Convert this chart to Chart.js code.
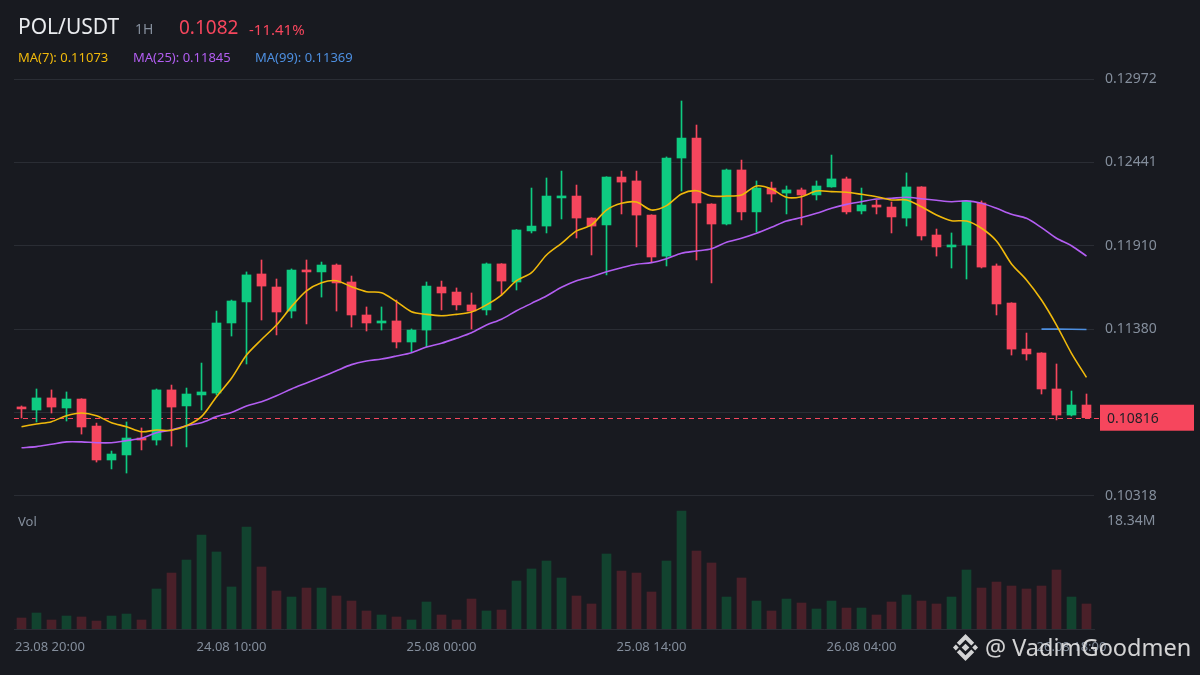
<!DOCTYPE html>
<html>
<head>
<meta charset="utf-8">
<script src="https://cdn.jsdelivr.net/npm/chart.js@4.4.1/dist/chart.umd.min.js"></script>
<style>
  html, body { margin: 0; padding: 0; background: #181a20; }
  #wrap { position: relative; width: 1200px; height: 675px; background: #181a20; overflow: hidden; font-family: "Noto Sans", sans-serif; }
  #wrap canvas { position: absolute; left: 0; top: 0; }
  .t { position: absolute; white-space: nowrap; line-height: 1; }
  #pair { left: 18px; top: 16px; font-size: 21px; color: #eaecef; }
  #tf { left: 135px; top: 22px; font-size: 14px; color: #848e9c; }
  #last { left: 179px; top: 18px; font-size: 19px; color: #f6465d; }
  #chg { left: 249px; top: 22px; font-size: 15px; color: #f6465d; }
  .ma { top: 51px; font-size: 13px; }
  #wm { left: 951px; top: 633px; color: rgba(232,232,232,0.9); font-size: 23.5px; display: flex; align-items: center; gap: 5px; z-index: 2; }
</style>
</head>
<body>
<div id="wrap">
  <canvas id="chart" width="1200" height="675"></canvas>
  <div class="t" id="pair">POL/USDT</div>
  <div class="t" id="tf">1H</div>
  <div class="t" id="last">0.1082</div>
  <div class="t" id="chg">-11.41%</div>
  <div class="t ma" style="left:18px;color:#f0b90b">MA(7): 0.11073</div>
  <div class="t ma" style="left:133px;color:#b35ef2">MA(25): 0.11845</div>
  <div class="t ma" style="left:255px;color:#4d8fe0">MA(99): 0.11369</div>
  <div class="t" id="wm">
    <svg width="29" height="29" viewBox="0 0 30 30">
      <g fill="rgba(232,232,232,0.9)">
        <polygon points="15,11 19,15 15,19 11,15"/>
        <polygon points="2,15 5,12 8,15 5,18"/>
        <polygon points="22,15 25,12 28,15 25,18"/>
        <polygon points="15,1 24,10 21,13 15,7 9,13 6,10"/>
        <polygon points="15,29 24,20 21,17 15,23 9,17 6,20"/>
      </g>
    </svg>
    <span>@ VadimGoodmen</span>
  </div>
</div>
<script>
// hourly candles, 23.08 20:00 -> 26.08 19:00
const labels = [];
for (let h = 0; h < 72; h++) {
  const t = 20 + h;
  const day = 23 + Math.floor(t / 24);
  const hr = t % 24;
  labels.push(day + ".08 " + String(hr).padStart(2, "0") + ":00");
}

const open = [0.10884,0.10865,0.10942,0.10878,0.10935,0.10763,0.10547,0.10579,0.10687,0.10674,
  0.10993,0.10891,0.10961,0.10973,0.11419,0.11553,0.11731,0.11648,0.11495,0.11756,
  0.11744,0.11788,0.11680,0.11470,0.11419,0.11432,0.11298,0.11374,0.11648,0.11616,
  0.11534,0.11502,0.11795,0.11680,0.12005,0.12036,0.12215,0.12227,0.12087,0.12043,
  0.12348,0.12323,0.12106,0.11845,0.12469,0.12596,0.12176,0.12049,0.12393,0.12126,
  0.12278,0.12246,0.12266,0.12234,0.12285,0.12336,0.12132,0.12170,0.12157,0.12087,
  0.12285,0.11979,0.11903,0.11915,0.12183,0.11782,0.11546,0.11253,0.11228,0.10999,
  0.10833,0.10897];

const high = [0.10891,0.10999,0.10993,0.10980,0.10937,0.10782,0.10604,0.10789,0.10751,0.10999,
  0.11024,0.11005,0.11164,0.11495,0.11565,0.11744,0.11820,0.11699,0.11763,0.11820,
  0.11807,0.11795,0.11718,0.11521,0.11521,0.11565,0.11381,0.11680,0.11686,0.11642,
  0.11610,0.11801,0.11797,0.12014,0.12278,0.12342,0.12386,0.12297,0.12089,0.12350,
  0.12386,0.12386,0.12108,0.12476,0.12832,0.12679,0.12178,0.12399,0.12456,0.12323,
  0.12316,0.12291,0.12278,0.12323,0.12488,0.12348,0.12278,0.12202,0.12189,0.12374,
  0.12287,0.12017,0.11992,0.12198,0.12196,0.11795,0.11548,0.11355,0.11230,0.11158,
  0.10986,0.10967];

const low = [0.10814,0.10789,0.10846,0.10795,0.10712,0.10534,0.10490,0.10464,0.10611,0.10642,
  0.10636,0.10630,0.10865,0.10961,0.11336,0.11158,0.11438,0.11343,0.11451,0.11413,
  0.11584,0.11495,0.11393,0.11368,0.11374,0.11260,0.11234,0.11266,0.11502,0.11502,
  0.11381,0.11470,0.11597,0.11629,0.11992,0.11992,0.12081,0.11960,0.11852,0.11725,
  0.12113,0.11903,0.11807,0.11782,0.12259,0.11820,0.11674,0.12043,0.12075,0.11998,
  0.12189,0.12113,0.12043,0.12202,0.12283,0.12113,0.12113,0.12113,0.11992,0.12036,
  0.11947,0.11845,0.11769,0.11699,0.11769,0.11470,0.11215,0.11183,0.10967,0.10802,
  0.10827,0.10812];

const close = [0.10872,0.10942,0.10884,0.10935,0.10757,0.10547,0.10585,0.10687,0.10674,0.10993,
  0.10884,0.10967,0.10980,0.11419,0.11559,0.11725,0.11654,0.11489,0.11756,0.11744,
  0.11788,0.11674,0.11470,0.11419,0.11432,0.11298,0.11374,0.11654,0.11610,0.11534,
  0.11495,0.11795,0.11686,0.12011,0.12036,0.12227,0.12227,0.12087,0.12036,0.12348,
  0.12316,0.12106,0.11839,0.12469,0.12596,0.12183,0.12049,0.12393,0.12126,0.12278,
  0.12240,0.12266,0.12234,0.12291,0.12336,0.12126,0.12170,0.12157,0.12094,0.12285,
  0.11973,0.11903,0.11915,0.12196,0.11775,0.11540,0.11253,0.11222,0.10999,0.10833,
  0.10897,0.10816];

// volume in millions
const volume = [1.71,2.49,1.40,2.02,1.87,1.24,2.02,2.33,1.40,6.22,
  8.70,10.72,14.61,11.97,6.53,15.85,9.64,5.91,4.97,6.37,
  6.37,5.13,4.35,2.80,2.18,1.87,1.40,4.20,2.18,1.40,
  4.66,2.80,2.95,7.46,9.33,10.57,7.93,5.13,3.89,11.66,
  9.01,8.70,5.75,10.57,18.34,12.12,10.26,4.97,7.93,4.35,
  2.80,4.66,4.04,3.11,4.35,3.26,3.26,2.18,4.20,5.28,
  4.35,3.89,4.97,9.17,6.37,7.30,6.68,6.22,6.68,9.17,
  4.97,3.89];

const ma7 = [0.10759,0.10776,0.10791,0.10829,0.10846,0.10829,0.10784,0.10759,0.10727,0.10738,
  0.10736,0.10765,0.10823,0.10950,0.11067,0.11215,0.11314,0.11406,0.11523,0.11623,
  0.11675,0.11688,0.11650,0.11618,0.11612,0.11555,0.11491,0.11474,0.11465,0.11474,
  0.11489,0.11534,0.11597,0.11688,0.11739,0.11852,0.11926,0.12005,0.12043,0.12138,
  0.12181,0.12189,0.12138,0.12166,0.12240,0.12261,0.12227,0.12227,0.12234,0.12291,
  0.12272,0.12219,0.12223,0.12259,0.12255,0.12251,0.12238,0.12223,0.12202,0.12202,
  0.12159,0.12106,0.12070,0.12068,0.12022,0.11941,0.11795,0.11693,0.11565,0.11406,
  0.11226,0.11073];

const ma25 = [0.10625,0.10632,0.10647,0.10662,0.10662,0.10657,0.10657,0.10670,0.10685,0.10721,
  0.10738,0.10765,0.10784,0.10823,0.10850,0.10891,0.10918,0.10956,0.10999,0.11037,
  0.11075,0.11115,0.11154,0.11177,0.11190,0.11209,0.11230,0.11266,0.11290,0.11322,
  0.11357,0.11406,0.11443,0.11497,0.11544,0.11591,0.11646,0.11688,0.11714,0.11745,
  0.11771,0.11793,0.11803,0.11828,0.11863,0.11877,0.11892,0.11933,0.11958,0.11990,
  0.12028,0.12068,0.12090,0.12117,0.12149,0.12174,0.12191,0.12208,0.12213,0.12219,
  0.12210,0.12200,0.12191,0.12196,0.12181,0.12149,0.12111,0.12085,0.12026,0.11958,
  0.11911,0.11845];

// MA(99) only starts near the end of the window
const ma99 = [...Array(68).fill(null), 0.11380, 0.11380, 0.11379, 0.11378];

const priceTicks = [0.12972, 0.12441, 0.11910, 0.11380, 0.10849, 0.10318];
const xTickIdx = [14, 28, 42, 56, 70];
const firstLabel = labels[0];
const lastPrice = 0.10816;
const volLabel = "18.34M";
const volTop = 18.34;

const UP = "#0ecb81", DOWN = "#f6465d";
const UP_VOL = "#12432f", DOWN_VOL = "#4a2029";
const GRID = "#2a2d34";
const TXT = "#848e9c";

const isUp = close.map((c, i) => c >= open[i]);
const candleColors = isUp.map(u => u ? UP : DOWN);
const volColors = isUp.map(u => u ? UP_VOL : DOWN_VOL);

// chart area 79..629 px; price pane 79..496, volume pane below
const priceMax = 0.12972;
const priceMin = 0.0947125;
const volMax = 85.48;

const extras = {
  id: "extras",
  beforeDatasetsDraw(chart) {
    const { ctx, chartArea } = chart;
    const y = Math.round(chart.scales.y.getPixelForValue(lastPrice)) + 0.5;
    ctx.save();
    ctx.strokeStyle = DOWN;
    ctx.lineWidth = 1;
    ctx.setLineDash([5, 4]);
    ctx.beginPath();
    ctx.moveTo(chartArea.left, y);
    ctx.lineTo(1100, y);
    ctx.stroke();
    ctx.restore();
  },
  afterDraw(chart) {
    const { ctx, chartArea } = chart;
    const y = chart.scales.y.getPixelForValue(lastPrice);
    ctx.save();
    ctx.fillStyle = DOWN;
    ctx.fillRect(1100, y - 13, 94, 26);
    ctx.fillStyle = "#1e2026";
    ctx.font = '14px "Noto Sans"';
    ctx.textBaseline = "middle";
    ctx.textAlign = "left";
    ctx.fillText(lastPrice.toFixed(5), 1107, y + 1);

    ctx.fillStyle = TXT;
    const vy = chart.scales.yVol.getPixelForValue(volTop);
    ctx.fillText(volLabel, 1107, vy + 10);
    ctx.font = '13px "Noto Sans"';
    ctx.fillText("Vol", 18, vy + 11);
    ctx.fillText(firstLabel, 15, chartArea.bottom + 18);
    ctx.restore();
  }
};

new Chart(document.getElementById("chart"), {
  data: {
    labels: labels,
    datasets: [
      { type: "line", label: "MA(7)", data: ma7, borderColor: "#f0b90b", borderWidth: 1.6, pointRadius: 0, tension: 0.3, order: 0, yAxisID: "y" },
      { type: "line", label: "MA(25)", data: ma25, borderColor: "#b35ef2", borderWidth: 1.6, pointRadius: 0, tension: 0.3, order: 0, yAxisID: "y" },
      { type: "line", label: "MA(99)", data: ma99, borderColor: "#4d8fe0", borderWidth: 1.6, pointRadius: 0, tension: 0, order: 0, yAxisID: "y" },
      { type: "bar", label: "wick", data: low.map((l, i) => [l, high[i]]), backgroundColor: candleColors, barThickness: 1, grouped: false, order: 2, yAxisID: "y" },
      { type: "bar", label: "body", data: open.map((o, i) => [o, close[i]]), backgroundColor: candleColors, barThickness: 9, minBarLength: 2, grouped: false, order: 1, yAxisID: "y" },
      { type: "bar", label: "Vol", data: volume, backgroundColor: volColors, barThickness: 9, grouped: false, order: 3, yAxisID: "yVol" }
    ]
  },
  options: {
    responsive: false,
    animation: false,
    events: [],
    layout: { padding: { left: 14, top: 79, right: 0, bottom: 0 } },
    plugins: { legend: { display: false }, tooltip: { enabled: false } },
    scales: {
      x: {
        type: "category",
        offset: true,
        grid: { display: false },
        border: { display: true, color: GRID },
        afterFit: s => { s.height = 46; },
        ticks: {
          autoSkip: false,
          maxRotation: 0,
          minRotation: 0,
          padding: 2,
          color: TXT,
          font: { family: "Noto Sans", size: 13 },
          callback: (v, i) => xTickIdx.includes(i) ? labels[i] : ""
        }
      },
      y: {
        position: "right",
        min: priceMin,
        max: priceMax,
        afterBuildTicks: s => { s.ticks = priceTicks.map(v => ({ value: v })); },
        afterFit: s => { s.width = 106; },
        grid: { color: GRID, drawTicks: false },
        border: { display: false },
        ticks: {
          padding: 11,
          color: TXT,
          font: { family: "Noto Sans", size: 14 },
          callback: v => v.toFixed(5)
        }
      },
      yVol: {
        display: false,
        position: "right",
        min: 0,
        max: volMax
      }
    }
  },
  plugins: [extras]
});
</script>
</body>
</html>
